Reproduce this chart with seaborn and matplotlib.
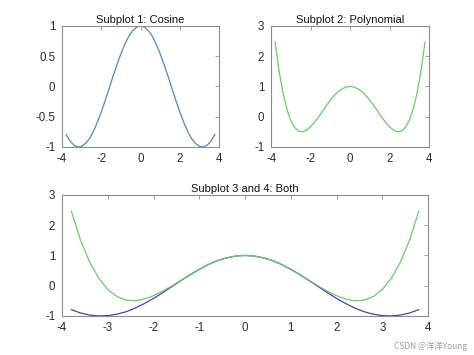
import matplotlib
matplotlib.use("Agg")
import matplotlib.pyplot as plt
import seaborn as sns

# values (x from -3.8 to 3.8, step 0.2)
x_vals = [-3.8, -3.6, -3.4, -3.2, -3.0, -2.8, -2.6, -2.4, -2.2, -2.0,
          -1.8, -1.6, -1.4, -1.2, -1.0, -0.8, -0.6, -0.4, -0.2, 0.0,
          0.2, 0.4, 0.6, 0.8, 1.0, 1.2, 1.4, 1.6, 1.8, 2.0,
          2.2, 2.4, 2.6, 2.8, 3.0, 3.2, 3.4, 3.6, 3.8]
cos_vals = [-0.79, -0.90, -0.97, -1.00, -0.99, -0.94, -0.86, -0.74, -0.59, -0.42,
            -0.23, -0.03, 0.17, 0.36, 0.54, 0.70, 0.83, 0.92, 0.98, 1.00,
            0.98, 0.92, 0.83, 0.70, 0.54, 0.36, 0.17, -0.03, -0.23, -0.42,
            -0.59, -0.74, -0.86, -0.94, -0.99, -1.00, -0.97, -0.90, -0.79]
poly_vals = [2.47, 1.52, 0.79, 0.25, -0.13, -0.36, -0.48, -0.50, -0.44, -0.33,
             -0.18, -0.01, 0.18, 0.37, 0.54, 0.70, 0.83, 0.92, 0.98, 1.00,
             0.98, 0.92, 0.83, 0.70, 0.54, 0.37, 0.18, -0.01, -0.18, -0.33,
             -0.44, -0.50, -0.48, -0.36, -0.13, 0.25, 0.79, 1.52, 2.47]

titles = ["Subplot 1: Cosine", "Subplot 2: Polynomial", "Subplot 3 and 4: Both"]
yticks_cos = [-1, -0.5, 0, 0.5, 1]
ytick_labels_cos = ["-1", "-0.5", "0", "0.5", "1"]
yticks_poly = [-1, 0, 1, 2, 3]
xticks_top = [-4, -2, 0, 2, 4]
xticks_bottom = [-4, -3, -2, -1, 0, 1, 2, 3, 4]

sns.set_style("white")
plt.rcParams["font.family"] = ["Liberation Sans", "DejaVu Sans"]
plt.rcParams["axes.unicode_minus"] = False


def style_axes(ax, title):
    ax.set_title(title, fontsize=8, color="#111111", pad=2)
    for s in ax.spines.values():
        s.set_color("#8c8c8c")
        s.set_linewidth(0.8)
    ax.tick_params(direction="in", top=True, right=True, length=3, width=0.6,
                   color="#8c8c8c", labelsize=8.3, labelcolor="#2a2a2a")
    ax.tick_params(axis="y", pad=5)
    ax.tick_params(axis="x", pad=4)
    ax.set_xlabel("")
    ax.set_ylabel("")


fig = plt.figure(figsize=(4.74, 3.55), dpi=100)
ax1 = fig.add_axes([0.131, 0.586, 0.331, 0.341])
ax2 = fig.add_axes([0.572, 0.586, 0.333, 0.341])
ax3 = fig.add_axes([0.131, 0.110, 0.772, 0.341])

sns.lineplot(x=x_vals, y=cos_vals, ax=ax1, color="#4a8bbd", linewidth=0.9)
ax1.set_xlim(-4, 4)
ax1.set_ylim(-1, 1)
ax1.set_xticks(xticks_top)
ax1.set_yticks(yticks_cos)
ax1.set_yticklabels(ytick_labels_cos)
style_axes(ax1, titles[0])

sns.lineplot(x=x_vals, y=poly_vals, ax=ax2, color="#62cf62", linewidth=0.9)
ax2.set_xlim(-4, 4)
ax2.set_ylim(-1, 3)
ax2.set_xticks(xticks_top)
ax2.set_yticks(yticks_poly)
style_axes(ax2, titles[1])

sns.lineplot(x=x_vals, y=cos_vals, ax=ax3, color="#4a3fb3", linewidth=0.9)
sns.lineplot(x=x_vals, y=poly_vals, ax=ax3, color="#62cf62", linewidth=0.9)
ax3.set_xlim(-4, 4)
ax3.set_ylim(-1, 3)
ax3.set_xticks(xticks_bottom)
ax3.set_yticks(yticks_poly)
style_axes(ax3, titles[2])

fig.text(0.985, 0.025, "CSDN @洋洋Young", ha="right", va="center", fontsize=6,
         color="#9a9a9a", family=["Noto Sans CJK SC", "DejaVu Sans"])

fig.savefig("out.png", dpi=100)
